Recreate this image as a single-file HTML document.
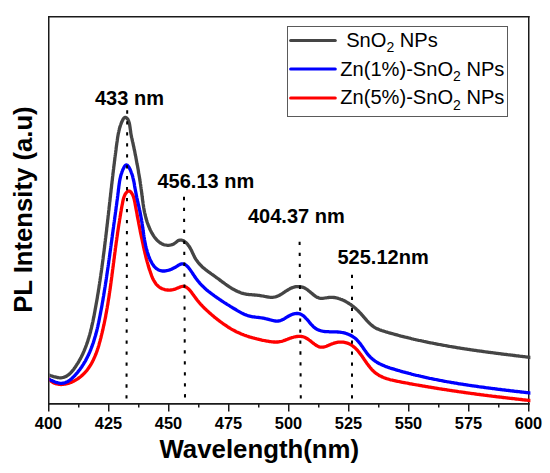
<!DOCTYPE html>
<html><head><meta charset="utf-8"><style>
html,body{margin:0;padding:0;background:#fff;width:550px;height:473px;overflow:hidden}
svg{display:block;font-family:"Liberation Sans",sans-serif}
</style></head><body>
<svg width="550" height="473" viewBox="0 0 550 473">
<defs><clipPath id="pc"><rect x="49.4" y="17" width="481" height="386"/></clipPath></defs>
<g stroke="#1a1a1a">
<line x1="48.75" y1="16" x2="48.75" y2="404.8" stroke-width="1.5"/>
<line x1="528.75" y1="16" x2="528.75" y2="404.8" stroke-width="1.5"/>
<line x1="48" y1="16.75" x2="529.5" y2="16.75" stroke-width="1.5"/>
<line x1="48" y1="403.8" x2="529.5" y2="403.8" stroke-width="1.8"/>
</g>
<g fill="none" stroke-linecap="round" stroke-linejoin="round" stroke-width="3.3" clip-path="url(#pc)">
<path stroke="#ff0000" d="M47.2 377.0 L47.9 377.9 L48.6 378.8 L49.3 379.7 L50.1 380.4 L50.9 381.1 L51.8 381.7 L52.6 382.3 L53.5 382.8 L54.4 383.2 L55.3 383.5 L56.3 383.8 L57.2 384.0 L58.2 384.2 L59.1 384.4 L60.1 384.4 L61.1 384.5 L62.1 384.4 L63.1 384.4 L64.1 384.2 L65.1 384.1 L66.1 383.9 L67.1 383.7 L68.0 383.4 L69.0 383.1 L70.0 382.7 L71.0 382.4 L71.9 382.0 L72.8 381.5 L73.8 381.1 L74.7 380.6 L75.6 380.1 L76.4 379.6 L77.3 379.1 L78.1 378.5 L78.9 378.0 L79.7 377.4 L80.5 376.8 L81.2 376.2 L81.9 375.5 L82.7 374.9 L83.3 374.2 L84.0 373.6 L84.7 372.9 L85.3 372.1 L86.0 371.4 L86.6 370.7 L87.2 369.9 L87.8 369.2 L88.3 368.4 L88.9 367.6 L89.4 366.8 L90.0 366.0 L90.5 365.2 L91.0 364.3 L91.5 363.5 L91.9 362.6 L92.4 361.8 L92.8 360.9 L93.3 360.0 L93.7 359.1 L94.1 358.2 L94.5 357.3 L94.9 356.4 L95.3 355.4 L95.7 354.5 L96.1 353.6 L96.4 352.6 L96.8 351.7 L97.1 350.7 L97.4 349.8 L97.7 348.8 L98.1 347.8 L98.4 346.8 L98.7 345.9 L99.0 344.9 L99.2 343.9 L99.5 342.9 L99.8 341.9 L100.1 340.9 L100.3 339.9 L100.6 338.9 L100.9 337.9 L101.1 336.9 L101.3 335.9 L101.6 334.9 L101.8 333.9 L102.1 332.9 L102.3 331.9 L102.5 331.0 L102.8 330.0 L103.0 329.0 L103.2 328.0 L103.4 327.0 L103.6 326.0 L103.9 325.0 L104.1 324.0 L104.3 323.0 L104.5 322.0 L104.7 321.0 L104.9 320.0 L105.1 319.0 L105.3 318.1 L105.5 317.1 L105.7 316.1 L105.8 315.1 L106.0 314.1 L106.2 313.1 L106.4 312.1 L106.6 311.2 L106.7 310.2 L106.9 309.2 L107.1 308.2 L107.3 307.2 L107.4 306.2 L107.6 305.2 L107.8 304.3 L107.9 303.3 L108.1 302.3 L108.2 301.3 L108.4 300.3 L108.5 299.3 L108.7 298.4 L108.9 297.4 L109.0 296.4 L109.2 295.4 L109.3 294.4 L109.4 293.5 L109.6 292.5 L109.7 291.5 L109.9 290.5 L110.0 289.5 L110.2 288.6 L110.3 287.6 L110.4 286.6 L110.6 285.6 L110.7 284.7 L110.8 283.7 L111.0 282.7 L111.1 281.7 L111.2 280.7 L111.4 279.8 L111.5 278.8 L111.6 277.8 L111.8 276.8 L111.9 275.9 L112.0 274.9 L112.1 273.9 L112.3 272.9 L112.4 272.0 L112.5 271.0 L112.6 270.0 L112.8 269.0 L112.9 268.0 L113.0 267.1 L113.2 266.1 L113.3 265.1 L113.4 264.1 L113.5 263.2 L113.7 262.2 L113.8 261.2 L113.9 260.2 L114.0 259.3 L114.2 258.3 L114.3 257.3 L114.4 256.3 L114.5 255.4 L114.7 254.4 L114.8 253.4 L114.9 252.4 L115.1 251.5 L115.2 250.5 L115.3 249.5 L115.4 248.5 L115.6 247.5 L115.7 246.6 L115.8 245.6 L116.0 244.6 L116.1 243.6 L116.2 242.6 L116.4 241.7 L116.5 240.7 L116.7 239.7 L116.8 238.7 L116.9 237.7 L117.1 236.7 L117.2 235.8 L117.4 234.8 L117.5 233.8 L117.6 232.8 L117.8 231.8 L117.9 230.8 L118.1 229.8 L118.2 228.8 L118.4 227.8 L118.5 226.8 L118.7 225.8 L118.8 224.8 L119.0 223.8 L119.2 222.8 L119.3 221.8 L119.5 220.7 L119.6 219.7 L119.8 218.7 L120.0 217.7 L120.1 216.7 L120.3 215.7 L120.5 214.6 L120.6 213.6 L120.8 212.6 L121.0 211.5 L121.2 210.5 L121.3 209.5 L121.5 208.4 L121.7 207.4 L121.9 206.3 L122.1 205.3 L122.3 204.2 L122.5 203.2 L122.7 202.1 L122.9 201.1 L123.1 200.0 L123.4 199.0 L123.7 198.0 L124.0 197.0 L124.4 196.0 L124.8 195.1 L125.3 194.1 L125.9 193.3 L126.5 192.5 L127.1 191.8 L127.7 191.3 L128.7 191.0 L129.7 191.2 L130.7 191.9 L131.3 192.6 L131.8 193.4 L132.4 194.3 L132.8 195.2 L133.2 196.2 L133.6 197.2 L133.9 198.2 L134.2 199.3 L134.4 200.4 L134.7 201.5 L134.9 202.6 L135.1 203.7 L135.3 204.9 L135.5 205.9 L135.7 207.0 L135.9 208.1 L136.1 209.2 L136.3 210.2 L136.5 211.3 L136.7 212.3 L136.9 213.4 L137.1 214.4 L137.2 215.4 L137.4 216.4 L137.6 217.4 L137.8 218.4 L138.0 219.4 L138.2 220.4 L138.4 221.4 L138.6 222.4 L138.7 223.3 L138.9 224.3 L139.1 225.3 L139.3 226.2 L139.5 227.2 L139.7 228.1 L139.9 229.1 L140.1 230.0 L140.2 231.0 L140.4 231.9 L140.6 232.9 L140.8 233.8 L141.0 234.7 L141.2 235.7 L141.4 236.6 L141.6 237.6 L141.8 238.5 L142.0 239.5 L142.2 240.4 L142.4 241.4 L142.6 242.3 L142.8 243.3 L143.0 244.2 L143.2 245.2 L143.4 246.1 L143.6 247.1 L143.8 248.0 L144.0 249.0 L144.2 250.0 L144.5 250.9 L144.7 251.9 L144.9 252.9 L145.1 253.8 L145.4 254.8 L145.6 255.8 L145.8 256.7 L146.1 257.7 L146.3 258.7 L146.6 259.7 L146.9 260.6 L147.1 261.6 L147.4 262.6 L147.7 263.6 L148.0 264.6 L148.2 265.5 L148.5 266.5 L148.8 267.5 L149.1 268.5 L149.4 269.5 L149.8 270.4 L150.1 271.4 L150.4 272.4 L150.8 273.4 L151.1 274.4 L151.5 275.3 L151.8 276.3 L152.2 277.2 L152.6 278.2 L153.1 279.1 L153.5 280.0 L154.0 280.8 L154.5 281.7 L155.0 282.5 L155.6 283.3 L156.1 284.1 L156.8 284.8 L157.4 285.5 L158.1 286.1 L158.8 286.7 L159.6 287.3 L160.4 287.8 L161.2 288.2 L162.1 288.7 L163.0 289.0 L163.9 289.3 L164.8 289.6 L165.8 289.8 L166.8 290.0 L167.8 290.0 L168.8 290.1 L169.9 290.1 L170.9 290.0 L171.9 289.9 L173.0 289.7 L174.0 289.4 L175.0 289.1 L176.0 288.7 L177.0 288.3 L178.0 287.9 L179.0 287.5 L179.9 287.1 L180.8 286.8 L181.7 286.5 L182.6 286.3 L183.5 286.3 L184.3 286.4 L185.1 286.7 L185.9 287.0 L186.7 287.4 L187.4 288.0 L188.2 288.6 L188.9 289.3 L189.6 290.0 L190.3 290.8 L191.0 291.7 L191.7 292.6 L192.3 293.5 L193.0 294.4 L193.6 295.3 L194.3 296.2 L194.9 297.1 L195.6 298.0 L196.2 298.9 L196.9 299.7 L197.5 300.5 L198.2 301.3 L198.8 302.1 L199.4 302.8 L200.1 303.6 L200.7 304.3 L201.4 305.0 L202.1 305.7 L202.7 306.4 L203.4 307.1 L204.0 307.8 L204.7 308.4 L205.4 309.1 L206.1 309.7 L206.8 310.4 L207.5 311.0 L208.2 311.6 L208.9 312.3 L209.6 312.9 L210.3 313.5 L211.0 314.2 L211.8 314.8 L212.5 315.4 L213.3 316.1 L214.0 316.7 L214.8 317.4 L215.6 318.0 L216.4 318.6 L217.2 319.2 L218.0 319.9 L218.8 320.5 L219.6 321.1 L220.4 321.7 L221.2 322.3 L222.0 322.9 L222.9 323.5 L223.7 324.1 L224.6 324.7 L225.4 325.3 L226.3 325.8 L227.1 326.4 L228.0 327.0 L228.8 327.5 L229.7 328.0 L230.6 328.6 L231.4 329.1 L232.3 329.6 L233.2 330.1 L234.1 330.5 L235.0 331.0 L235.9 331.5 L236.7 331.9 L237.6 332.3 L238.5 332.7 L239.4 333.1 L240.3 333.5 L241.2 333.9 L242.1 334.3 L243.0 334.6 L243.9 335.0 L244.8 335.3 L245.8 335.6 L246.7 336.0 L247.6 336.3 L248.5 336.6 L249.4 336.9 L250.4 337.2 L251.3 337.4 L252.2 337.7 L253.2 338.0 L254.1 338.2 L255.1 338.5 L256.0 338.7 L257.0 339.0 L257.9 339.2 L258.9 339.4 L259.9 339.6 L260.9 339.8 L261.8 340.1 L262.8 340.3 L263.8 340.5 L264.8 340.7 L265.8 340.9 L266.8 341.1 L267.8 341.2 L268.8 341.4 L269.8 341.6 L270.8 341.7 L271.8 341.8 L272.8 341.9 L273.8 342.0 L274.8 342.0 L275.8 342.1 L276.8 342.0 L277.8 342.0 L278.8 341.9 L279.8 341.7 L280.7 341.5 L281.7 341.3 L282.7 341.0 L283.6 340.7 L284.6 340.4 L285.5 340.0 L286.5 339.6 L287.4 339.3 L288.4 338.9 L289.3 338.5 L290.3 338.2 L291.2 337.9 L292.2 337.5 L293.2 337.3 L294.1 337.0 L295.1 336.8 L296.1 336.6 L297.0 336.5 L298.0 336.4 L299.0 336.3 L299.9 336.3 L300.9 336.4 L301.8 336.5 L302.8 336.7 L303.7 337.0 L304.6 337.3 L305.5 337.7 L306.4 338.2 L307.3 338.7 L308.2 339.3 L309.1 340.0 L310.0 340.6 L310.9 341.3 L311.7 342.0 L312.6 342.7 L313.5 343.4 L314.3 344.0 L315.2 344.6 L316.0 345.2 L316.9 345.7 L317.7 346.2 L318.6 346.6 L319.4 346.9 L320.3 347.1 L321.2 347.2 L322.0 347.2 L322.9 347.1 L323.8 347.0 L324.7 346.8 L325.6 346.5 L326.5 346.2 L327.4 345.8 L328.3 345.4 L329.2 345.0 L330.2 344.6 L331.1 344.2 L332.1 343.8 L333.1 343.5 L334.1 343.1 L335.1 342.8 L336.1 342.6 L337.2 342.4 L338.2 342.2 L339.3 342.1 L340.3 342.1 L341.4 342.1 L342.4 342.1 L343.4 342.2 L344.4 342.4 L345.4 342.6 L346.4 342.8 L347.3 343.1 L348.2 343.4 L349.1 343.8 L349.9 344.2 L350.7 344.7 L351.5 345.2 L352.3 345.7 L353.1 346.3 L353.8 346.9 L354.6 347.5 L355.3 348.1 L356.0 348.8 L356.6 349.5 L357.3 350.2 L358.0 351.0 L358.6 351.7 L359.2 352.5 L359.8 353.3 L360.5 354.1 L361.1 355.0 L361.7 355.8 L362.3 356.6 L362.9 357.5 L363.5 358.3 L364.0 359.2 L364.6 360.0 L365.2 360.9 L365.8 361.8 L366.4 362.6 L367.0 363.5 L367.6 364.3 L368.2 365.1 L368.8 365.9 L369.5 366.7 L370.1 367.5 L370.8 368.3 L371.4 369.1 L372.1 369.8 L372.8 370.5 L373.5 371.2 L374.2 371.8 L374.9 372.5 L375.7 373.1 L376.4 373.7 L377.2 374.2 L378.0 374.7 L378.8 375.2 L379.7 375.7 L380.5 376.1 L381.4 376.5 L382.2 377.0 L383.1 377.3 L384.0 377.7 L384.9 378.0 L385.9 378.4 L386.8 378.7 L387.7 379.0 L388.7 379.2 L389.6 379.5 L390.6 379.8 L391.6 380.0 L392.5 380.2 L393.5 380.5 L394.5 380.7 L395.5 380.9 L396.5 381.1 L397.5 381.3 L398.4 381.5 L399.4 381.7 L400.4 381.9 L401.4 382.1 L402.4 382.3 L403.4 382.5 L404.4 382.6 L405.4 382.8 L406.4 383.0 L407.4 383.2 L408.4 383.4 L409.3 383.6 L410.3 383.8 L411.3 383.9 L412.3 384.1 L413.3 384.3 L414.3 384.5 L415.3 384.7 L416.3 384.8 L417.3 385.0 L418.3 385.2 L419.2 385.4 L420.2 385.5 L421.2 385.7 L422.2 385.9 L423.2 386.1 L424.2 386.2 L425.2 386.4 L426.2 386.6 L427.1 386.7 L428.1 386.9 L429.1 387.1 L430.1 387.2 L431.1 387.4 L432.1 387.5 L433.1 387.7 L434.0 387.9 L435.0 388.0 L436.0 388.2 L437.0 388.4 L438.0 388.5 L439.0 388.7 L440.0 388.8 L441.0 389.0 L441.9 389.1 L442.9 389.3 L443.9 389.4 L444.9 389.6 L445.9 389.7 L446.9 389.9 L447.9 390.1 L448.8 390.2 L449.8 390.3 L450.8 390.5 L451.8 390.6 L452.8 390.8 L453.8 390.9 L454.7 391.1 L455.7 391.2 L456.7 391.4 L457.7 391.5 L458.7 391.7 L459.7 391.8 L460.7 391.9 L461.6 392.1 L462.6 392.2 L463.6 392.4 L464.6 392.5 L465.6 392.6 L466.6 392.8 L467.6 392.9 L468.6 393.1 L469.5 393.2 L470.5 393.3 L471.5 393.5 L472.5 393.6 L473.5 393.7 L474.5 393.9 L475.5 394.0 L476.4 394.1 L477.4 394.3 L478.4 394.4 L479.4 394.5 L480.4 394.6 L481.4 394.8 L482.4 394.9 L483.4 395.0 L484.3 395.2 L485.3 395.3 L486.3 395.4 L487.3 395.5 L488.3 395.7 L489.3 395.8 L490.3 395.9 L491.3 396.0 L492.3 396.2 L493.2 396.3 L494.2 396.4 L495.2 396.5 L496.2 396.6 L497.2 396.8 L498.2 396.9 L499.2 397.0 L500.2 397.1 L501.2 397.2 L502.2 397.4 L503.2 397.5 L504.1 397.6 L505.1 397.7 L506.1 397.8 L507.1 397.9 L508.1 398.1 L509.1 398.2 L510.1 398.3 L511.1 398.4 L512.1 398.5 L513.1 398.6 L514.1 398.7 L515.1 398.9 L516.1 399.0 L517.1 399.1 L518.1 399.2 L519.1 399.3 L520.1 399.4 L521.1 399.5 L522.1 399.6 L523.0 399.8 L524.0 399.9 L525.0 400.0 L526.0 400.1 L527.0 400.2 L528.0 400.3 L529.0 400.4 L530.0 400.5 L531.0 400.6 L531.0 400.6"/>
<path stroke="#0000ff" d="M47.1 378.4 L48.2 378.9 L49.0 379.3 L49.9 379.7 L50.8 380.2 L51.8 380.6 L52.9 381.1 L53.9 381.5 L55.0 382.0 L56.2 382.4 L57.3 382.7 L58.4 383.0 L59.5 383.2 L60.6 383.3 L61.6 383.3 L62.7 383.2 L63.7 383.1 L64.6 382.8 L65.6 382.5 L66.5 382.1 L67.4 381.7 L68.3 381.2 L69.1 380.6 L70.0 380.0 L70.8 379.4 L71.6 378.7 L72.3 378.0 L73.1 377.3 L73.8 376.5 L74.6 375.8 L75.3 375.0 L76.0 374.2 L76.7 373.4 L77.3 372.7 L78.0 371.9 L78.6 371.0 L79.3 370.2 L79.9 369.4 L80.5 368.6 L81.1 367.7 L81.7 366.9 L82.3 366.0 L82.8 365.2 L83.4 364.3 L83.9 363.4 L84.4 362.5 L85.0 361.6 L85.5 360.8 L86.0 359.9 L86.4 358.9 L86.9 358.0 L87.4 357.1 L87.8 356.2 L88.3 355.3 L88.7 354.3 L89.1 353.4 L89.6 352.4 L90.0 351.5 L90.4 350.5 L90.8 349.6 L91.1 348.6 L91.5 347.7 L91.9 346.7 L92.2 345.7 L92.6 344.7 L92.9 343.7 L93.3 342.8 L93.6 341.8 L93.9 340.8 L94.2 339.8 L94.5 338.8 L94.8 337.8 L95.1 336.8 L95.4 335.8 L95.7 334.7 L96.0 333.7 L96.2 332.7 L96.5 331.7 L96.8 330.7 L97.0 329.6 L97.3 328.6 L97.5 327.6 L97.8 326.6 L98.0 325.5 L98.2 324.5 L98.4 323.5 L98.7 322.4 L98.9 321.4 L99.1 320.4 L99.3 319.3 L99.5 318.3 L99.7 317.2 L99.9 316.2 L100.1 315.2 L100.3 314.1 L100.5 313.1 L100.7 312.0 L100.9 311.0 L101.1 310.0 L101.3 308.9 L101.5 307.9 L101.7 306.9 L101.9 305.8 L102.1 304.8 L102.2 303.7 L102.4 302.7 L102.6 301.7 L102.8 300.6 L103.0 299.6 L103.1 298.6 L103.3 297.5 L103.5 296.5 L103.7 295.5 L103.8 294.4 L104.0 293.4 L104.2 292.4 L104.3 291.4 L104.5 290.3 L104.7 289.3 L104.8 288.3 L105.0 287.2 L105.2 286.2 L105.3 285.2 L105.5 284.2 L105.6 283.1 L105.8 282.1 L106.0 281.1 L106.1 280.0 L106.3 279.0 L106.4 278.0 L106.6 277.0 L106.7 275.9 L106.9 274.9 L107.0 273.9 L107.2 272.9 L107.3 271.8 L107.5 270.8 L107.6 269.8 L107.8 268.8 L107.9 267.7 L108.1 266.7 L108.2 265.7 L108.4 264.7 L108.5 263.6 L108.7 262.6 L108.8 261.6 L108.9 260.6 L109.1 259.5 L109.2 258.5 L109.4 257.5 L109.5 256.5 L109.7 255.4 L109.8 254.4 L109.9 253.4 L110.1 252.4 L110.2 251.3 L110.4 250.3 L110.5 249.3 L110.6 248.3 L110.8 247.2 L110.9 246.2 L111.1 245.2 L111.2 244.2 L111.3 243.1 L111.5 242.1 L111.6 241.1 L111.8 240.1 L111.9 239.0 L112.0 238.0 L112.2 237.0 L112.3 236.0 L112.4 234.9 L112.6 233.9 L112.7 232.9 L112.9 231.8 L113.0 230.8 L113.1 229.8 L113.3 228.8 L113.4 227.7 L113.6 226.7 L113.7 225.7 L113.8 224.6 L114.0 223.6 L114.1 222.6 L114.3 221.5 L114.4 220.5 L114.6 219.5 L114.7 218.5 L114.8 217.4 L115.0 216.4 L115.1 215.3 L115.3 214.3 L115.4 213.3 L115.5 212.2 L115.7 211.2 L115.8 210.2 L116.0 209.1 L116.1 208.1 L116.2 207.0 L116.4 206.0 L116.5 205.0 L116.7 203.9 L116.8 202.9 L116.9 201.8 L117.1 200.8 L117.2 199.7 L117.4 198.7 L117.5 197.6 L117.6 196.6 L117.8 195.5 L117.9 194.5 L118.0 193.4 L118.2 192.4 L118.3 191.3 L118.4 190.2 L118.5 189.2 L118.7 188.1 L118.8 187.1 L118.9 186.0 L119.1 184.9 L119.2 183.9 L119.4 182.8 L119.5 181.7 L119.7 180.7 L119.9 179.6 L120.1 178.5 L120.4 177.5 L120.6 176.4 L120.9 175.3 L121.2 174.3 L121.6 173.2 L121.9 172.1 L122.3 171.1 L122.7 170.0 L123.2 168.9 L123.7 167.9 L124.2 167.0 L124.7 166.1 L125.3 165.5 L126.2 165.0 L127.1 165.1 L128.0 165.9 L128.5 166.6 L129.1 167.5 L129.6 168.5 L130.1 169.6 L130.6 170.6 L131.0 171.7 L131.4 172.8 L131.8 173.8 L132.2 174.9 L132.5 175.9 L132.8 177.0 L133.0 178.1 L133.3 179.1 L133.5 180.2 L133.8 181.3 L134.0 182.3 L134.2 183.4 L134.4 184.4 L134.5 185.5 L134.7 186.6 L134.9 187.6 L135.1 188.7 L135.3 189.7 L135.5 190.8 L135.7 191.8 L135.9 192.9 L136.1 193.9 L136.3 195.0 L136.5 196.0 L136.7 197.1 L136.9 198.1 L137.2 199.1 L137.4 200.2 L137.6 201.2 L137.8 202.2 L138.1 203.2 L138.3 204.3 L138.5 205.3 L138.8 206.3 L139.0 207.3 L139.2 208.3 L139.4 209.4 L139.7 210.4 L139.9 211.4 L140.1 212.4 L140.3 213.4 L140.5 214.4 L140.7 215.5 L140.9 216.5 L141.1 217.5 L141.3 218.5 L141.5 219.5 L141.6 220.5 L141.8 221.5 L142.0 222.5 L142.1 223.5 L142.3 224.5 L142.4 225.6 L142.6 226.6 L142.7 227.6 L142.9 228.6 L143.0 229.6 L143.1 230.6 L143.3 231.6 L143.4 232.6 L143.6 233.6 L143.7 234.7 L143.9 235.7 L144.0 236.7 L144.2 237.7 L144.4 238.7 L144.5 239.7 L144.7 240.8 L144.9 241.8 L145.1 242.8 L145.3 243.8 L145.5 244.9 L145.7 245.9 L146.0 246.9 L146.2 247.9 L146.5 249.0 L146.8 250.0 L147.1 251.0 L147.4 252.1 L147.7 253.1 L148.0 254.2 L148.4 255.2 L148.8 256.3 L149.2 257.3 L149.6 258.3 L150.0 259.4 L150.5 260.4 L151.0 261.4 L151.5 262.3 L152.0 263.3 L152.6 264.2 L153.2 265.0 L153.8 265.9 L154.4 266.7 L155.1 267.4 L155.8 268.1 L156.5 268.7 L157.3 269.2 L158.1 269.7 L158.9 270.1 L159.8 270.5 L160.7 270.7 L161.6 270.9 L162.5 271.0 L163.5 271.0 L164.5 271.0 L165.6 270.9 L166.6 270.7 L167.6 270.5 L168.7 270.2 L169.7 269.9 L170.7 269.5 L171.8 269.1 L172.8 268.6 L173.8 268.1 L174.8 267.6 L175.8 267.0 L176.7 266.4 L177.6 265.8 L178.5 265.2 L179.4 264.8 L180.3 264.3 L181.1 264.0 L181.9 263.9 L182.7 263.8 L183.5 264.0 L184.3 264.2 L185.1 264.6 L185.9 265.1 L186.6 265.7 L187.4 266.4 L188.1 267.2 L188.8 268.0 L189.5 268.9 L190.2 269.9 L190.9 270.9 L191.6 271.9 L192.3 272.9 L193.0 274.0 L193.7 275.0 L194.3 276.0 L195.0 277.0 L195.7 278.0 L196.4 278.9 L197.0 279.8 L197.7 280.7 L198.4 281.5 L199.1 282.3 L199.7 283.1 L200.4 283.9 L201.1 284.6 L201.8 285.3 L202.5 286.0 L203.2 286.7 L203.9 287.4 L204.6 288.1 L205.3 288.7 L206.0 289.3 L206.7 290.0 L207.5 290.6 L208.2 291.2 L209.0 291.8 L209.8 292.4 L210.6 293.0 L211.3 293.6 L212.2 294.2 L213.0 294.8 L213.8 295.4 L214.6 296.0 L215.5 296.6 L216.3 297.2 L217.2 297.8 L218.1 298.4 L219.0 299.0 L219.8 299.6 L220.7 300.2 L221.6 300.8 L222.5 301.4 L223.4 302.0 L224.3 302.6 L225.2 303.1 L226.1 303.7 L227.0 304.3 L228.0 304.9 L228.9 305.4 L229.8 306.0 L230.7 306.6 L231.6 307.1 L232.5 307.7 L233.4 308.2 L234.3 308.8 L235.2 309.3 L236.1 309.8 L237.0 310.4 L237.8 310.9 L238.7 311.4 L239.6 311.9 L240.5 312.4 L241.4 312.9 L242.3 313.3 L243.2 313.7 L244.1 314.2 L245.0 314.6 L245.9 314.9 L246.9 315.3 L247.8 315.6 L248.8 315.9 L249.7 316.2 L250.7 316.4 L251.7 316.6 L252.8 316.8 L253.8 316.9 L254.8 317.0 L255.9 317.2 L257.0 317.3 L258.0 317.4 L259.1 317.5 L260.2 317.7 L261.2 317.8 L262.3 318.0 L263.3 318.1 L264.4 318.3 L265.4 318.6 L266.5 318.8 L267.5 319.1 L268.5 319.4 L269.5 319.7 L270.5 320.0 L271.5 320.2 L272.5 320.5 L273.4 320.7 L274.4 320.9 L275.4 321.0 L276.4 321.1 L277.3 321.1 L278.3 321.0 L279.2 320.9 L280.2 320.6 L281.1 320.3 L282.1 319.9 L283.0 319.4 L284.0 318.9 L285.0 318.3 L285.9 317.7 L286.9 317.1 L287.9 316.5 L288.8 316.0 L289.8 315.5 L290.8 315.0 L291.9 314.5 L292.9 314.2 L293.9 313.9 L294.9 313.7 L295.9 313.5 L296.9 313.5 L297.8 313.5 L298.8 313.6 L299.7 313.8 L300.6 314.1 L301.5 314.6 L302.3 315.1 L303.1 315.6 L303.9 316.3 L304.7 317.0 L305.5 317.8 L306.2 318.6 L307.0 319.4 L307.7 320.2 L308.5 321.1 L309.2 322.0 L309.9 322.9 L310.7 323.8 L311.4 324.6 L312.2 325.4 L312.9 326.2 L313.7 327.0 L314.5 327.6 L315.3 328.3 L316.2 328.8 L317.0 329.3 L317.9 329.8 L318.8 330.1 L319.7 330.5 L320.6 330.7 L321.5 331.0 L322.5 331.2 L323.5 331.3 L324.4 331.5 L325.4 331.6 L326.4 331.6 L327.4 331.7 L328.5 331.7 L329.5 331.8 L330.5 331.8 L331.5 331.8 L332.6 331.8 L333.6 331.8 L334.7 331.8 L335.7 331.9 L336.8 331.9 L337.8 332.0 L338.9 332.1 L339.9 332.2 L341.0 332.3 L342.0 332.5 L343.0 332.7 L344.1 332.9 L345.1 333.2 L346.1 333.5 L347.1 333.8 L348.1 334.2 L349.0 334.6 L350.0 335.0 L350.9 335.5 L351.8 336.0 L352.7 336.5 L353.5 337.1 L354.4 337.7 L355.2 338.3 L356.0 339.0 L356.7 339.7 L357.4 340.5 L358.2 341.3 L358.8 342.1 L359.5 342.9 L360.2 343.7 L360.8 344.6 L361.4 345.4 L362.1 346.3 L362.7 347.2 L363.3 348.1 L363.9 349.0 L364.5 349.8 L365.1 350.7 L365.8 351.6 L366.4 352.5 L367.0 353.3 L367.7 354.1 L368.3 355.0 L369.0 355.7 L369.7 356.5 L370.4 357.2 L371.2 357.9 L371.9 358.6 L372.7 359.3 L373.5 359.9 L374.3 360.5 L375.1 361.1 L376.0 361.7 L376.8 362.2 L377.7 362.7 L378.6 363.2 L379.5 363.7 L380.4 364.1 L381.3 364.6 L382.3 365.0 L383.2 365.4 L384.2 365.8 L385.1 366.2 L386.1 366.6 L387.1 366.9 L388.0 367.3 L389.0 367.6 L390.0 368.0 L391.0 368.3 L392.0 368.6 L393.0 368.9 L394.0 369.2 L395.0 369.5 L396.0 369.8 L397.0 370.1 L398.0 370.4 L399.1 370.7 L400.1 371.0 L401.1 371.3 L402.1 371.6 L403.1 371.9 L404.1 372.1 L405.1 372.4 L406.1 372.7 L407.1 372.9 L408.1 373.2 L409.1 373.5 L410.2 373.7 L411.2 374.0 L412.2 374.3 L413.2 374.5 L414.2 374.8 L415.2 375.0 L416.2 375.3 L417.2 375.5 L418.3 375.7 L419.3 376.0 L420.3 376.2 L421.3 376.5 L422.3 376.7 L423.3 376.9 L424.4 377.2 L425.4 377.4 L426.4 377.6 L427.4 377.8 L428.4 378.0 L429.4 378.3 L430.5 378.5 L431.5 378.7 L432.5 378.9 L433.5 379.1 L434.5 379.3 L435.6 379.5 L436.6 379.7 L437.6 379.9 L438.6 380.1 L439.7 380.3 L440.7 380.5 L441.7 380.7 L442.7 380.9 L443.7 381.1 L444.8 381.3 L445.8 381.5 L446.8 381.7 L447.8 381.8 L448.9 382.0 L449.9 382.2 L450.9 382.4 L451.9 382.6 L453.0 382.7 L454.0 382.9 L455.0 383.1 L456.1 383.2 L457.1 383.4 L458.1 383.6 L459.1 383.8 L460.2 383.9 L461.2 384.1 L462.2 384.2 L463.3 384.4 L464.3 384.6 L465.3 384.7 L466.3 384.9 L467.4 385.0 L468.4 385.2 L469.4 385.3 L470.5 385.5 L471.5 385.6 L472.5 385.8 L473.6 385.9 L474.6 386.1 L475.6 386.2 L476.7 386.4 L477.7 386.5 L478.7 386.7 L479.8 386.8 L480.8 387.0 L481.8 387.1 L482.8 387.2 L483.9 387.4 L484.9 387.5 L486.0 387.7 L487.0 387.8 L488.0 387.9 L489.1 388.1 L490.1 388.2 L491.1 388.3 L492.2 388.5 L493.2 388.6 L494.2 388.7 L495.3 388.9 L496.3 389.0 L497.3 389.1 L498.4 389.3 L499.4 389.4 L500.4 389.5 L501.5 389.6 L502.5 389.8 L503.6 389.9 L504.6 390.0 L505.6 390.1 L506.7 390.3 L507.7 390.4 L508.7 390.5 L509.8 390.6 L510.8 390.8 L511.8 390.9 L512.9 391.0 L513.9 391.1 L514.9 391.3 L516.0 391.4 L517.0 391.5 L518.1 391.6 L519.1 391.7 L520.1 391.9 L521.2 392.0 L522.2 392.1 L523.2 392.2 L524.3 392.3 L525.3 392.4 L526.3 392.6 L527.4 392.7 L528.4 392.8 L529.4 392.9 L530.5 393.0 L531.0 393.1"/>
<path stroke="#454545" d="M47.2 374.4 L48.3 374.8 L49.2 375.1 L50.2 375.5 L51.3 375.9 L52.5 376.2 L53.6 376.6 L54.9 376.9 L56.1 377.2 L57.3 377.5 L58.6 377.7 L59.8 377.8 L60.9 377.8 L62.0 377.7 L63.1 377.5 L64.2 377.2 L65.1 376.8 L66.1 376.4 L67.0 375.8 L67.9 375.2 L68.7 374.6 L69.6 373.9 L70.4 373.1 L71.1 372.3 L71.9 371.5 L72.6 370.6 L73.3 369.8 L74.0 368.9 L74.6 367.9 L75.3 367.0 L75.9 366.1 L76.5 365.2 L77.1 364.2 L77.7 363.3 L78.3 362.3 L78.9 361.3 L79.4 360.4 L80.0 359.4 L80.5 358.4 L81.0 357.5 L81.5 356.5 L82.0 355.5 L82.5 354.5 L83.0 353.5 L83.4 352.5 L83.9 351.4 L84.3 350.4 L84.7 349.4 L85.1 348.4 L85.5 347.3 L85.9 346.3 L86.3 345.3 L86.7 344.2 L87.1 343.2 L87.4 342.1 L87.8 341.1 L88.1 340.0 L88.4 338.9 L88.8 337.9 L89.1 336.8 L89.4 335.7 L89.7 334.7 L90.0 333.6 L90.3 332.5 L90.6 331.4 L90.8 330.3 L91.1 329.2 L91.4 328.2 L91.6 327.1 L91.9 326.0 L92.1 324.9 L92.4 323.8 L92.6 322.7 L92.9 321.6 L93.1 320.5 L93.3 319.4 L93.5 318.3 L93.8 317.2 L94.0 316.1 L94.2 315.0 L94.4 313.9 L94.6 312.8 L94.8 311.7 L95.0 310.5 L95.2 309.4 L95.4 308.3 L95.6 307.2 L95.8 306.1 L96.0 305.0 L96.2 303.9 L96.4 302.8 L96.6 301.7 L96.8 300.6 L97.0 299.5 L97.2 298.4 L97.4 297.3 L97.5 296.2 L97.7 295.1 L97.9 294.0 L98.1 292.9 L98.3 291.8 L98.4 290.7 L98.6 289.6 L98.8 288.5 L99.0 287.4 L99.1 286.2 L99.3 285.1 L99.5 284.0 L99.6 282.9 L99.8 281.8 L100.0 280.7 L100.1 279.6 L100.3 278.5 L100.5 277.4 L100.6 276.3 L100.8 275.2 L100.9 274.1 L101.1 273.0 L101.3 271.9 L101.4 270.8 L101.6 269.7 L101.7 268.6 L101.9 267.5 L102.0 266.4 L102.2 265.3 L102.3 264.2 L102.5 263.1 L102.6 262.0 L102.8 260.9 L102.9 259.8 L103.1 258.7 L103.2 257.6 L103.3 256.4 L103.5 255.3 L103.6 254.2 L103.8 253.1 L103.9 252.0 L104.1 250.9 L104.2 249.8 L104.3 248.7 L104.5 247.6 L104.6 246.5 L104.7 245.4 L104.9 244.3 L105.0 243.2 L105.1 242.1 L105.3 241.0 L105.4 239.9 L105.5 238.8 L105.7 237.7 L105.8 236.6 L105.9 235.5 L106.1 234.4 L106.2 233.3 L106.3 232.2 L106.5 231.1 L106.6 230.0 L106.7 228.8 L106.8 227.7 L107.0 226.6 L107.1 225.5 L107.2 224.4 L107.4 223.3 L107.5 222.2 L107.6 221.1 L107.7 220.0 L107.9 218.9 L108.0 217.8 L108.1 216.7 L108.2 215.6 L108.4 214.5 L108.5 213.4 L108.6 212.3 L108.7 211.2 L108.9 210.0 L109.0 208.9 L109.1 207.8 L109.2 206.7 L109.4 205.6 L109.5 204.5 L109.6 203.4 L109.7 202.3 L109.9 201.2 L110.0 200.1 L110.1 199.0 L110.2 197.9 L110.4 196.8 L110.5 195.6 L110.6 194.5 L110.7 193.4 L110.9 192.3 L111.0 191.2 L111.1 190.1 L111.2 189.0 L111.4 187.9 L111.5 186.8 L111.6 185.7 L111.7 184.5 L111.9 183.4 L112.0 182.3 L112.1 181.2 L112.3 180.1 L112.4 179.0 L112.5 177.9 L112.6 176.8 L112.8 175.7 L112.9 174.5 L113.0 173.4 L113.2 172.3 L113.3 171.2 L113.4 170.1 L113.6 169.0 L113.7 167.9 L113.8 166.7 L114.0 165.6 L114.1 164.5 L114.3 163.4 L114.4 162.3 L114.5 161.2 L114.7 160.1 L114.8 158.9 L114.9 157.8 L115.1 156.7 L115.2 155.6 L115.4 154.5 L115.5 153.4 L115.7 152.2 L115.8 151.1 L116.0 150.0 L116.1 148.9 L116.2 147.8 L116.4 146.6 L116.5 145.5 L116.7 144.4 L116.8 143.3 L117.0 142.2 L117.2 141.0 L117.3 139.9 L117.5 138.8 L117.6 137.7 L117.8 136.6 L118.0 135.5 L118.2 134.3 L118.4 133.2 L118.7 132.1 L118.9 131.0 L119.2 129.9 L119.4 128.8 L119.7 127.7 L120.1 126.6 L120.4 125.5 L120.8 124.5 L121.2 123.4 L121.6 122.3 L122.1 121.2 L122.6 120.2 L123.1 119.2 L123.7 118.3 L124.3 117.7 L125.3 117.3 L126.3 117.7 L127.0 118.3 L127.7 119.1 L128.2 120.1 L128.7 121.2 L129.1 122.4 L129.4 123.7 L129.7 125.1 L129.9 126.4 L130.1 127.8 L130.3 129.2 L130.5 130.5 L130.6 131.8 L130.8 133.0 L131.0 134.2 L131.2 135.3 L131.4 136.4 L131.6 137.4 L131.9 138.4 L132.1 139.4 L132.3 140.4 L132.5 141.4 L132.8 142.4 L133.0 143.4 L133.2 144.4 L133.4 145.5 L133.7 146.5 L133.9 147.6 L134.1 148.7 L134.3 149.7 L134.6 150.8 L134.8 151.9 L135.0 153.0 L135.2 154.2 L135.4 155.3 L135.7 156.4 L135.9 157.5 L136.1 158.7 L136.3 159.8 L136.5 160.9 L136.7 162.0 L136.9 163.2 L137.1 164.3 L137.4 165.4 L137.6 166.5 L137.8 167.6 L138.0 168.8 L138.2 169.9 L138.4 171.0 L138.5 172.1 L138.7 173.2 L138.9 174.3 L139.1 175.4 L139.3 176.5 L139.5 177.6 L139.7 178.7 L139.8 179.9 L140.0 181.0 L140.2 182.1 L140.3 183.2 L140.5 184.3 L140.7 185.4 L140.8 186.5 L141.0 187.6 L141.1 188.7 L141.3 189.8 L141.4 190.9 L141.6 192.0 L141.7 193.0 L141.8 194.1 L142.0 195.2 L142.1 196.3 L142.3 197.4 L142.4 198.5 L142.5 199.6 L142.7 200.7 L142.8 201.8 L143.0 202.9 L143.1 204.0 L143.3 205.1 L143.5 206.1 L143.6 207.2 L143.8 208.3 L144.0 209.4 L144.2 210.5 L144.4 211.6 L144.6 212.6 L144.9 213.7 L145.1 214.8 L145.4 215.9 L145.7 217.0 L145.9 218.0 L146.2 219.1 L146.6 220.2 L146.9 221.2 L147.2 222.3 L147.6 223.4 L148.0 224.4 L148.4 225.5 L148.8 226.6 L149.3 227.6 L149.7 228.7 L150.2 229.8 L150.7 230.8 L151.3 231.9 L151.8 232.9 L152.4 233.9 L153.0 234.9 L153.6 235.9 L154.3 236.9 L155.0 237.8 L155.7 238.7 L156.4 239.5 L157.2 240.3 L158.0 241.1 L158.8 241.8 L159.7 242.5 L160.5 243.1 L161.5 243.6 L162.4 244.1 L163.4 244.5 L164.4 244.8 L165.4 245.0 L166.5 245.2 L167.6 245.3 L168.7 245.3 L169.8 245.2 L170.9 245.0 L172.0 244.7 L173.1 244.2 L174.1 243.7 L175.1 243.0 L176.1 242.2 L177.0 241.5 L177.9 240.8 L178.9 240.3 L179.9 240.1 L180.8 240.1 L181.8 240.2 L182.7 240.5 L183.7 240.9 L184.6 241.5 L185.5 242.2 L186.4 243.0 L187.2 243.8 L187.9 244.7 L188.6 245.7 L189.3 246.6 L189.9 247.7 L190.5 248.7 L191.1 249.8 L191.6 250.8 L192.1 251.9 L192.6 253.0 L193.2 254.1 L193.7 255.2 L194.2 256.2 L194.7 257.3 L195.3 258.3 L195.9 259.3 L196.5 260.2 L197.1 261.1 L197.8 262.0 L198.5 262.8 L199.2 263.7 L199.9 264.5 L200.6 265.2 L201.4 266.0 L202.1 266.7 L202.9 267.4 L203.7 268.1 L204.6 268.8 L205.4 269.5 L206.2 270.1 L207.1 270.8 L208.0 271.4 L208.8 272.1 L209.7 272.7 L210.6 273.3 L211.5 274.0 L212.4 274.6 L213.3 275.2 L214.2 275.9 L215.1 276.5 L216.0 277.2 L216.9 277.9 L217.8 278.5 L218.8 279.2 L219.7 279.9 L220.6 280.6 L221.5 281.3 L222.4 282.0 L223.4 282.6 L224.3 283.3 L225.2 284.0 L226.2 284.7 L227.1 285.3 L228.0 285.9 L229.0 286.6 L229.9 287.2 L230.9 287.8 L231.8 288.4 L232.8 289.0 L233.8 289.5 L234.8 290.0 L235.7 290.6 L236.7 291.0 L237.7 291.5 L238.7 291.9 L239.7 292.3 L240.7 292.7 L241.8 293.1 L242.8 293.4 L243.8 293.7 L244.9 293.9 L245.9 294.1 L247.0 294.3 L248.1 294.4 L249.1 294.6 L250.2 294.7 L251.3 294.7 L252.4 294.8 L253.5 294.9 L254.6 295.0 L255.7 295.1 L256.8 295.2 L258.0 295.3 L259.1 295.4 L260.2 295.6 L261.4 295.8 L262.5 296.0 L263.6 296.2 L264.8 296.5 L265.9 296.7 L267.0 296.9 L268.2 297.0 L269.3 297.2 L270.4 297.3 L271.5 297.3 L272.6 297.3 L273.7 297.2 L274.7 297.0 L275.8 296.8 L276.8 296.4 L277.8 296.0 L278.9 295.5 L279.9 295.0 L280.9 294.4 L281.9 293.8 L282.9 293.2 L283.8 292.5 L284.8 291.9 L285.8 291.2 L286.8 290.6 L287.8 290.0 L288.8 289.4 L289.8 288.8 L290.8 288.3 L291.8 287.9 L292.8 287.5 L293.9 287.2 L294.9 286.9 L295.9 286.7 L297.0 286.6 L298.0 286.6 L299.1 286.6 L300.1 286.7 L301.1 286.8 L302.1 287.1 L303.1 287.4 L304.1 287.8 L305.1 288.3 L306.1 288.9 L307.0 289.5 L308.0 290.2 L308.9 291.0 L309.9 291.8 L310.8 292.6 L311.7 293.3 L312.7 294.1 L313.6 294.9 L314.6 295.6 L315.6 296.3 L316.5 296.9 L317.5 297.4 L318.6 297.8 L319.6 298.1 L320.6 298.3 L321.7 298.3 L322.8 298.3 L323.9 298.2 L325.0 298.0 L326.2 297.8 L327.3 297.7 L328.4 297.5 L329.6 297.4 L330.7 297.3 L331.9 297.3 L333.0 297.4 L334.1 297.5 L335.2 297.6 L336.3 297.9 L337.4 298.1 L338.5 298.5 L339.6 298.8 L340.6 299.2 L341.7 299.6 L342.7 300.1 L343.8 300.6 L344.8 301.1 L345.8 301.6 L346.7 302.1 L347.7 302.7 L348.6 303.2 L349.5 303.8 L350.5 304.4 L351.4 305.1 L352.2 305.7 L353.1 306.4 L353.9 307.0 L354.8 307.7 L355.6 308.4 L356.4 309.2 L357.2 309.9 L358.0 310.7 L358.8 311.5 L359.6 312.3 L360.4 313.1 L361.1 313.9 L361.9 314.8 L362.6 315.6 L363.3 316.5 L364.1 317.3 L364.8 318.2 L365.6 319.1 L366.3 319.9 L367.1 320.8 L367.9 321.6 L368.6 322.4 L369.4 323.2 L370.2 324.0 L371.1 324.7 L371.9 325.4 L372.8 326.1 L373.7 326.8 L374.6 327.4 L375.5 327.9 L376.5 328.4 L377.5 328.9 L378.5 329.3 L379.5 329.7 L380.6 330.1 L381.6 330.5 L382.7 330.8 L383.8 331.2 L384.9 331.5 L385.9 331.8 L387.0 332.1 L388.1 332.5 L389.2 332.8 L390.3 333.1 L391.3 333.4 L392.4 333.7 L393.5 334.0 L394.6 334.3 L395.7 334.6 L396.8 334.9 L397.8 335.2 L398.9 335.5 L400.0 335.8 L401.1 336.1 L402.2 336.3 L403.3 336.6 L404.3 336.9 L405.4 337.2 L406.5 337.4 L407.6 337.7 L408.7 338.0 L409.8 338.2 L410.9 338.5 L412.0 338.8 L413.0 339.0 L414.1 339.3 L415.2 339.5 L416.3 339.8 L417.4 340.0 L418.5 340.3 L419.6 340.5 L420.7 340.7 L421.8 341.0 L422.9 341.2 L423.9 341.5 L425.0 341.7 L426.1 341.9 L427.2 342.1 L428.3 342.4 L429.4 342.6 L430.5 342.8 L431.6 343.0 L432.7 343.2 L433.8 343.5 L434.9 343.7 L436.0 343.9 L437.1 344.1 L438.2 344.3 L439.3 344.5 L440.4 344.7 L441.5 344.9 L442.6 345.1 L443.7 345.3 L444.8 345.5 L445.8 345.7 L446.9 345.9 L448.0 346.1 L449.1 346.3 L450.2 346.5 L451.3 346.7 L452.4 346.9 L453.5 347.0 L454.6 347.2 L455.7 347.4 L456.8 347.6 L457.9 347.8 L459.0 347.9 L460.1 348.1 L461.3 348.3 L462.4 348.5 L463.5 348.6 L464.6 348.8 L465.7 349.0 L466.8 349.1 L467.9 349.3 L469.0 349.5 L470.1 349.6 L471.2 349.8 L472.3 350.0 L473.4 350.1 L474.5 350.3 L475.6 350.4 L476.7 350.6 L477.8 350.8 L478.9 350.9 L480.0 351.1 L481.1 351.2 L482.2 351.4 L483.3 351.5 L484.4 351.7 L485.5 351.8 L486.6 352.0 L487.8 352.1 L488.9 352.3 L490.0 352.4 L491.1 352.6 L492.2 352.7 L493.3 352.8 L494.4 353.0 L495.5 353.1 L496.6 353.3 L497.7 353.4 L498.8 353.6 L499.9 353.7 L501.0 353.8 L502.2 354.0 L503.3 354.1 L504.4 354.3 L505.5 354.4 L506.6 354.5 L507.7 354.7 L508.8 354.8 L509.9 354.9 L511.0 355.1 L512.1 355.2 L513.2 355.4 L514.4 355.5 L515.5 355.6 L516.6 355.8 L517.7 355.9 L518.8 356.0 L519.9 356.2 L521.0 356.3 L522.1 356.4 L523.2 356.6 L524.3 356.7 L525.5 356.8 L526.6 357.0 L527.7 357.1 L528.8 357.2 L529.9 357.4 L531.0 357.5 L531.0 357.5"/>
</g>
<g stroke="#000" stroke-width="2" stroke-dasharray="3.3 7.66">
<line x1="127.2" y1="110.35" x2="126.5" y2="400.0" />
<line x1="184.0" y1="196.85" x2="185.0" y2="400.0" />
<line x1="299.6" y1="241.75" x2="300.8" y2="400.0" />
<line x1="352.0" y1="274.75" x2="352.0" y2="400.0" />
</g>
<g stroke="#1a1a1a" stroke-width="1.5">
<line x1="48.75" y1="403" x2="48.75" y2="411.4"/>
<line x1="108.75" y1="403" x2="108.75" y2="411.4"/>
<line x1="168.75" y1="403" x2="168.75" y2="411.4"/>
<line x1="228.75" y1="403" x2="228.75" y2="411.4"/>
<line x1="288.75" y1="403" x2="288.75" y2="411.4"/>
<line x1="348.75" y1="403" x2="348.75" y2="411.4"/>
<line x1="408.75" y1="403" x2="408.75" y2="411.4"/>
<line x1="468.75" y1="403" x2="468.75" y2="411.4"/>
<line x1="528.75" y1="403" x2="528.75" y2="411.4"/>
<line x1="78.75" y1="403" x2="78.75" y2="407.5"/>
<line x1="138.75" y1="403" x2="138.75" y2="407.5"/>
<line x1="198.75" y1="403" x2="198.75" y2="407.5"/>
<line x1="258.75" y1="403" x2="258.75" y2="407.5"/>
<line x1="318.75" y1="403" x2="318.75" y2="407.5"/>
<line x1="378.75" y1="403" x2="378.75" y2="407.5"/>
<line x1="438.75" y1="403" x2="438.75" y2="407.5"/>
<line x1="498.75" y1="403" x2="498.75" y2="407.5"/>
</g>
<g font-weight="bold" font-size="16.4" text-anchor="middle" fill="#000">
<text x="48.5" y="429">400</text>
<text x="108.5" y="429">425</text>
<text x="168.5" y="429">450</text>
<text x="228.5" y="429">475</text>
<text x="288.5" y="429">500</text>
<text x="348.5" y="429">525</text>
<text x="408.5" y="429">550</text>
<text x="468.5" y="429">575</text>
<text x="528.5" y="429">600</text>
</g>
<text x="259.3" y="458" font-weight="bold" font-size="25.8" text-anchor="middle">Wavelength(nm)</text>
<text transform="translate(32.2,209.6) rotate(-90)" font-weight="bold" font-size="25.7" text-anchor="middle">PL Intensity (a.u)</text>
<g font-weight="bold" font-size="20" fill="#000">
<text x="95" y="105">433 nm</text>
<text x="157.5" y="187.5">456.13 nm</text>
<text x="248" y="223">404.37 nm</text>
<text x="337.5" y="264">525.12nm</text>
</g>
<rect x="287.5" y="26.5" width="220" height="90" fill="#fff" stroke="#5a5a5a" stroke-width="1"/>
<g stroke-width="3" stroke-linecap="round">
<line x1="290.6" y1="40.4" x2="335.3" y2="40.4" stroke="#454545"/>
<line x1="290.6" y1="69.1" x2="335.3" y2="69.1" stroke="#0000ff"/>
<line x1="290.6" y1="98" x2="335.3" y2="98" stroke="#ff0000"/>
</g>
<g font-size="20.1" fill="#000">
<text x="346.2" y="46.8">SnO<tspan font-size="14" dy="5.5">2</tspan><tspan dy="-5.5"> NPs</tspan></text>
<text x="340.3" y="75.7">Zn(1%)-SnO<tspan font-size="14" dy="5.5">2</tspan><tspan dy="-5.5"> NPs</tspan></text>
<text x="340.3" y="104.1">Zn(5%)-SnO<tspan font-size="14" dy="5.5">2</tspan><tspan dy="-5.5"> NPs</tspan></text>
</g>
</svg>
</body></html>
